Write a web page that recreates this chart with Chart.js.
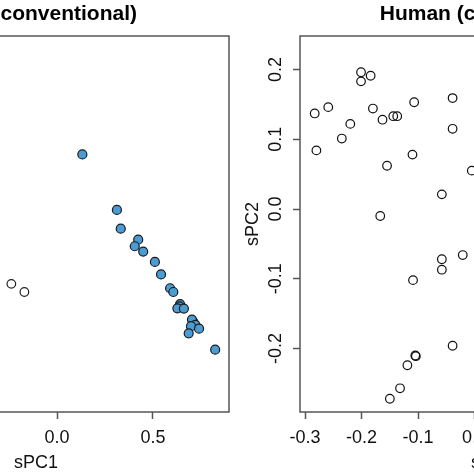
<!DOCTYPE html>
<html>
<head>
<meta charset="utf-8">
<script src="https://cdn.jsdelivr.net/npm/chart.js@4.4.0/dist/chart.umd.min.js"></script>
<style>
  html, body { margin: 0; padding: 0; background: #fff; overflow: hidden; }
  body { width: 474px; height: 474px; position: relative; }
  .panel { position: absolute; top: 0; }
  #left { left: -180px; }
  #right { left: 237px; }
</style>
</head>
<body>
<div class="panel" id="left"><canvas id="grafA" width="422" height="474"></canvas></div>
<div class="panel" id="right"><canvas id="grafB" width="462" height="474"></canvas></div>
<script>
// panel A (mostly cut off on the left, only its right part shows)
const mouseX = [0.132, 0.312, 0.332, 0.423, 0.405, 0.449, 0.510, 0.542, 0.589, 0.606,
                0.641, 0.638, 0.627, 0.661, 0.710, 0.703, 0.721, 0.698, 0.740, 0.686, 0.824];
const mouseY = [0.222, 0.045, -0.015, -0.050, -0.071, -0.088, -0.121, -0.161, -0.205, -0.217,
                -0.256, -0.263, -0.269, -0.270, -0.312, -0.305, -0.322, -0.326, -0.334, -0.349, -0.401];
const mouseOpenX = [-0.238, -0.170];
const mouseOpenY = [-0.191, -0.217];
const mouseXTicks = [-1.0, -0.5, 0.0, 0.5];

// panel B
const humanX = [-0.201, -0.201, -0.184, -0.283, -0.259, -0.280, -0.235, -0.220, -0.180, -0.163,
                -0.144, -0.137, -0.107, -0.155, -0.110, -0.039, -0.039, -0.058, -0.167, -0.005,
                -0.021, -0.058, -0.058, -0.109, -0.039, -0.105, -0.104, -0.119, -0.132, -0.150];
const humanY = [0.196, 0.183, 0.191, 0.137, 0.146, 0.084, 0.101, 0.122, 0.144, 0.128,
                0.133, 0.133, 0.153, 0.062, 0.078, 0.159, 0.115, 0.021, -0.010, 0.055,
                -0.066, -0.072, -0.087, -0.102, -0.196, -0.210, -0.211, -0.224, -0.257, -0.272];
const humanXTicks = [-0.3, -0.2, -0.1, 0.0, 0.1, 0.2, 0.3];
const humanYTicks = [-0.2, -0.1, 0.0, 0.1, 0.2];

const FONT = '"Liberation Sans", Arial, Helvetica, sans-serif';
Chart.defaults.font.family = FONT;
Chart.defaults.color = '#111';

const fmt = v => Math.abs(v) < 1e-9 ? '0.0' : v.toFixed(1);
const pares = (xs, ys) => xs.map((x, i) => ({ x, y: ys[i] }));

// caja estilo R alrededor del area del grafico
const caja = {
    id: 'caja',
    afterDatasetsDraw(chart) {
        const { ctx, chartArea: a } = chart;
        ctx.save();
        ctx.strokeStyle = '#555';
        ctx.lineWidth = 1.5;
        ctx.strokeRect(a.left, a.top, a.right - a.left, a.bottom - a.top);
        ctx.restore();
    }
};

const panelTitle = {
    id: 'panelTitle',
    afterDraw(chart, args, opts) {
        const { ctx, chartArea: a } = chart;
        ctx.save();
        ctx.font = 'bold 21px ' + FONT;
        ctx.fillStyle = '#000';
        ctx.textAlign = opts.align;
        ctx.textBaseline = 'alphabetic';
        ctx.fillText(opts.text, (a.left + a.right) / 2 + opts.dx, 20);
        ctx.restore();
    }
};

// etiquetas del eje y giradas (como en R)
const etiquetasY = {
    id: 'etiquetasY',
    afterDraw(chart) {
        const { ctx, chartArea: a } = chart;
        const s = chart.scales.y;
        ctx.save();
        ctx.font = '18px ' + FONT;
        ctx.fillStyle = '#111';
        ctx.textAlign = 'center';
        ctx.textBaseline = 'middle';
        s.ticks.forEach(t => {
            ctx.save();
            ctx.translate(a.left - 24, s.getPixelForValue(t.value));
            ctx.rotate(-Math.PI / 2);
            ctx.fillText(fmt(t.value), 0, 0);
            ctx.restore();
        });
        ctx.restore();
    }
};

const ejeX = (min, max, ticks, titulo) => ({
    type: 'linear', position: 'bottom', min, max,
    afterFit: s => { s.height = 62; },
    afterBuildTicks: s => { s.ticks = ticks.map(v => ({ value: v })); },
    grid: { drawOnChartArea: false, drawTicks: true, tickLength: 7, tickColor: '#555', tickWidth: 1.5 },
    border: { display: false },
    ticks: { font: { size: 18 }, color: '#111', padding: 8, maxRotation: 0, autoSkip: false, callback: fmt },
    title: { display: true, text: titulo, font: { size: 18 }, color: '#111', padding: { top: 0, bottom: 0 } }
});

const basePlugins = { legend: { display: false }, tooltip: { enabled: false } };

new Chart(document.getElementById('grafA'), {
    type: 'scatter',
    data: {
        datasets: [
            { data: pares(mouseOpenX, mouseOpenY), backgroundColor: '#fff', borderColor: '#222',
              pointRadius: 4.3, borderWidth: 1.2 },
            { data: pares(mouseX, mouseY), backgroundColor: '#4a9cd4', borderColor: '#1a1a1a',
              pointRadius: 4.5, borderWidth: 1.2 }
        ]
    },
    options: {
        responsive: false, animation: false, devicePixelRatio: 1,
        layout: { padding: { left: 23, right: 13, top: 36, bottom: 0 } },
        scales: {
            x: ejeX(-1.115, 0.896, mouseXTicks, 'sPC1'),
            y: { display: false, min: -0.6, max: 0.6 }
        },
        plugins: { ...basePlugins, panelTitle: { text: 'conventional)', align: 'right', dx: 101 } }
    },
    plugins: [caja, panelTitle]
});

new Chart(document.getElementById('grafB'), {
    type: 'scatter',
    data: {
        datasets: [
            { data: pares(humanX, humanY), backgroundColor: 'rgba(255,255,255,0)', borderColor: '#111',
              pointRadius: 4.3, borderWidth: 1.2 }
        ]
    },
    options: {
        responsive: false, animation: false, devicePixelRatio: 1,
        layout: { padding: { left: 0, right: 13, top: 36, bottom: 0 } },
        scales: {
            x: ejeX(-0.309, 0.374, humanXTicks, 'sPC1'),
            y: {
                type: 'linear', min: -0.291, max: 0.248,
                afterFit: s => { s.width = 63; },
                afterBuildTicks: s => { s.ticks = humanYTicks.map(v => ({ value: v })); },
                grid: { drawOnChartArea: false, drawTicks: true, tickLength: 7, tickColor: '#555', tickWidth: 1.5 },
                border: { display: false },
                ticks: { display: false },
                title: { display: true, text: 'sPC2', font: { size: 18 }, color: '#111', padding: { top: 5, bottom: 0 } }
            }
        },
        plugins: { ...basePlugins, panelTitle: { text: 'Human (conventional)', align: 'center', dx: -3 } }
    },
    plugins: [caja, panelTitle, etiquetasY]
});
</script>
</body>
</html>
